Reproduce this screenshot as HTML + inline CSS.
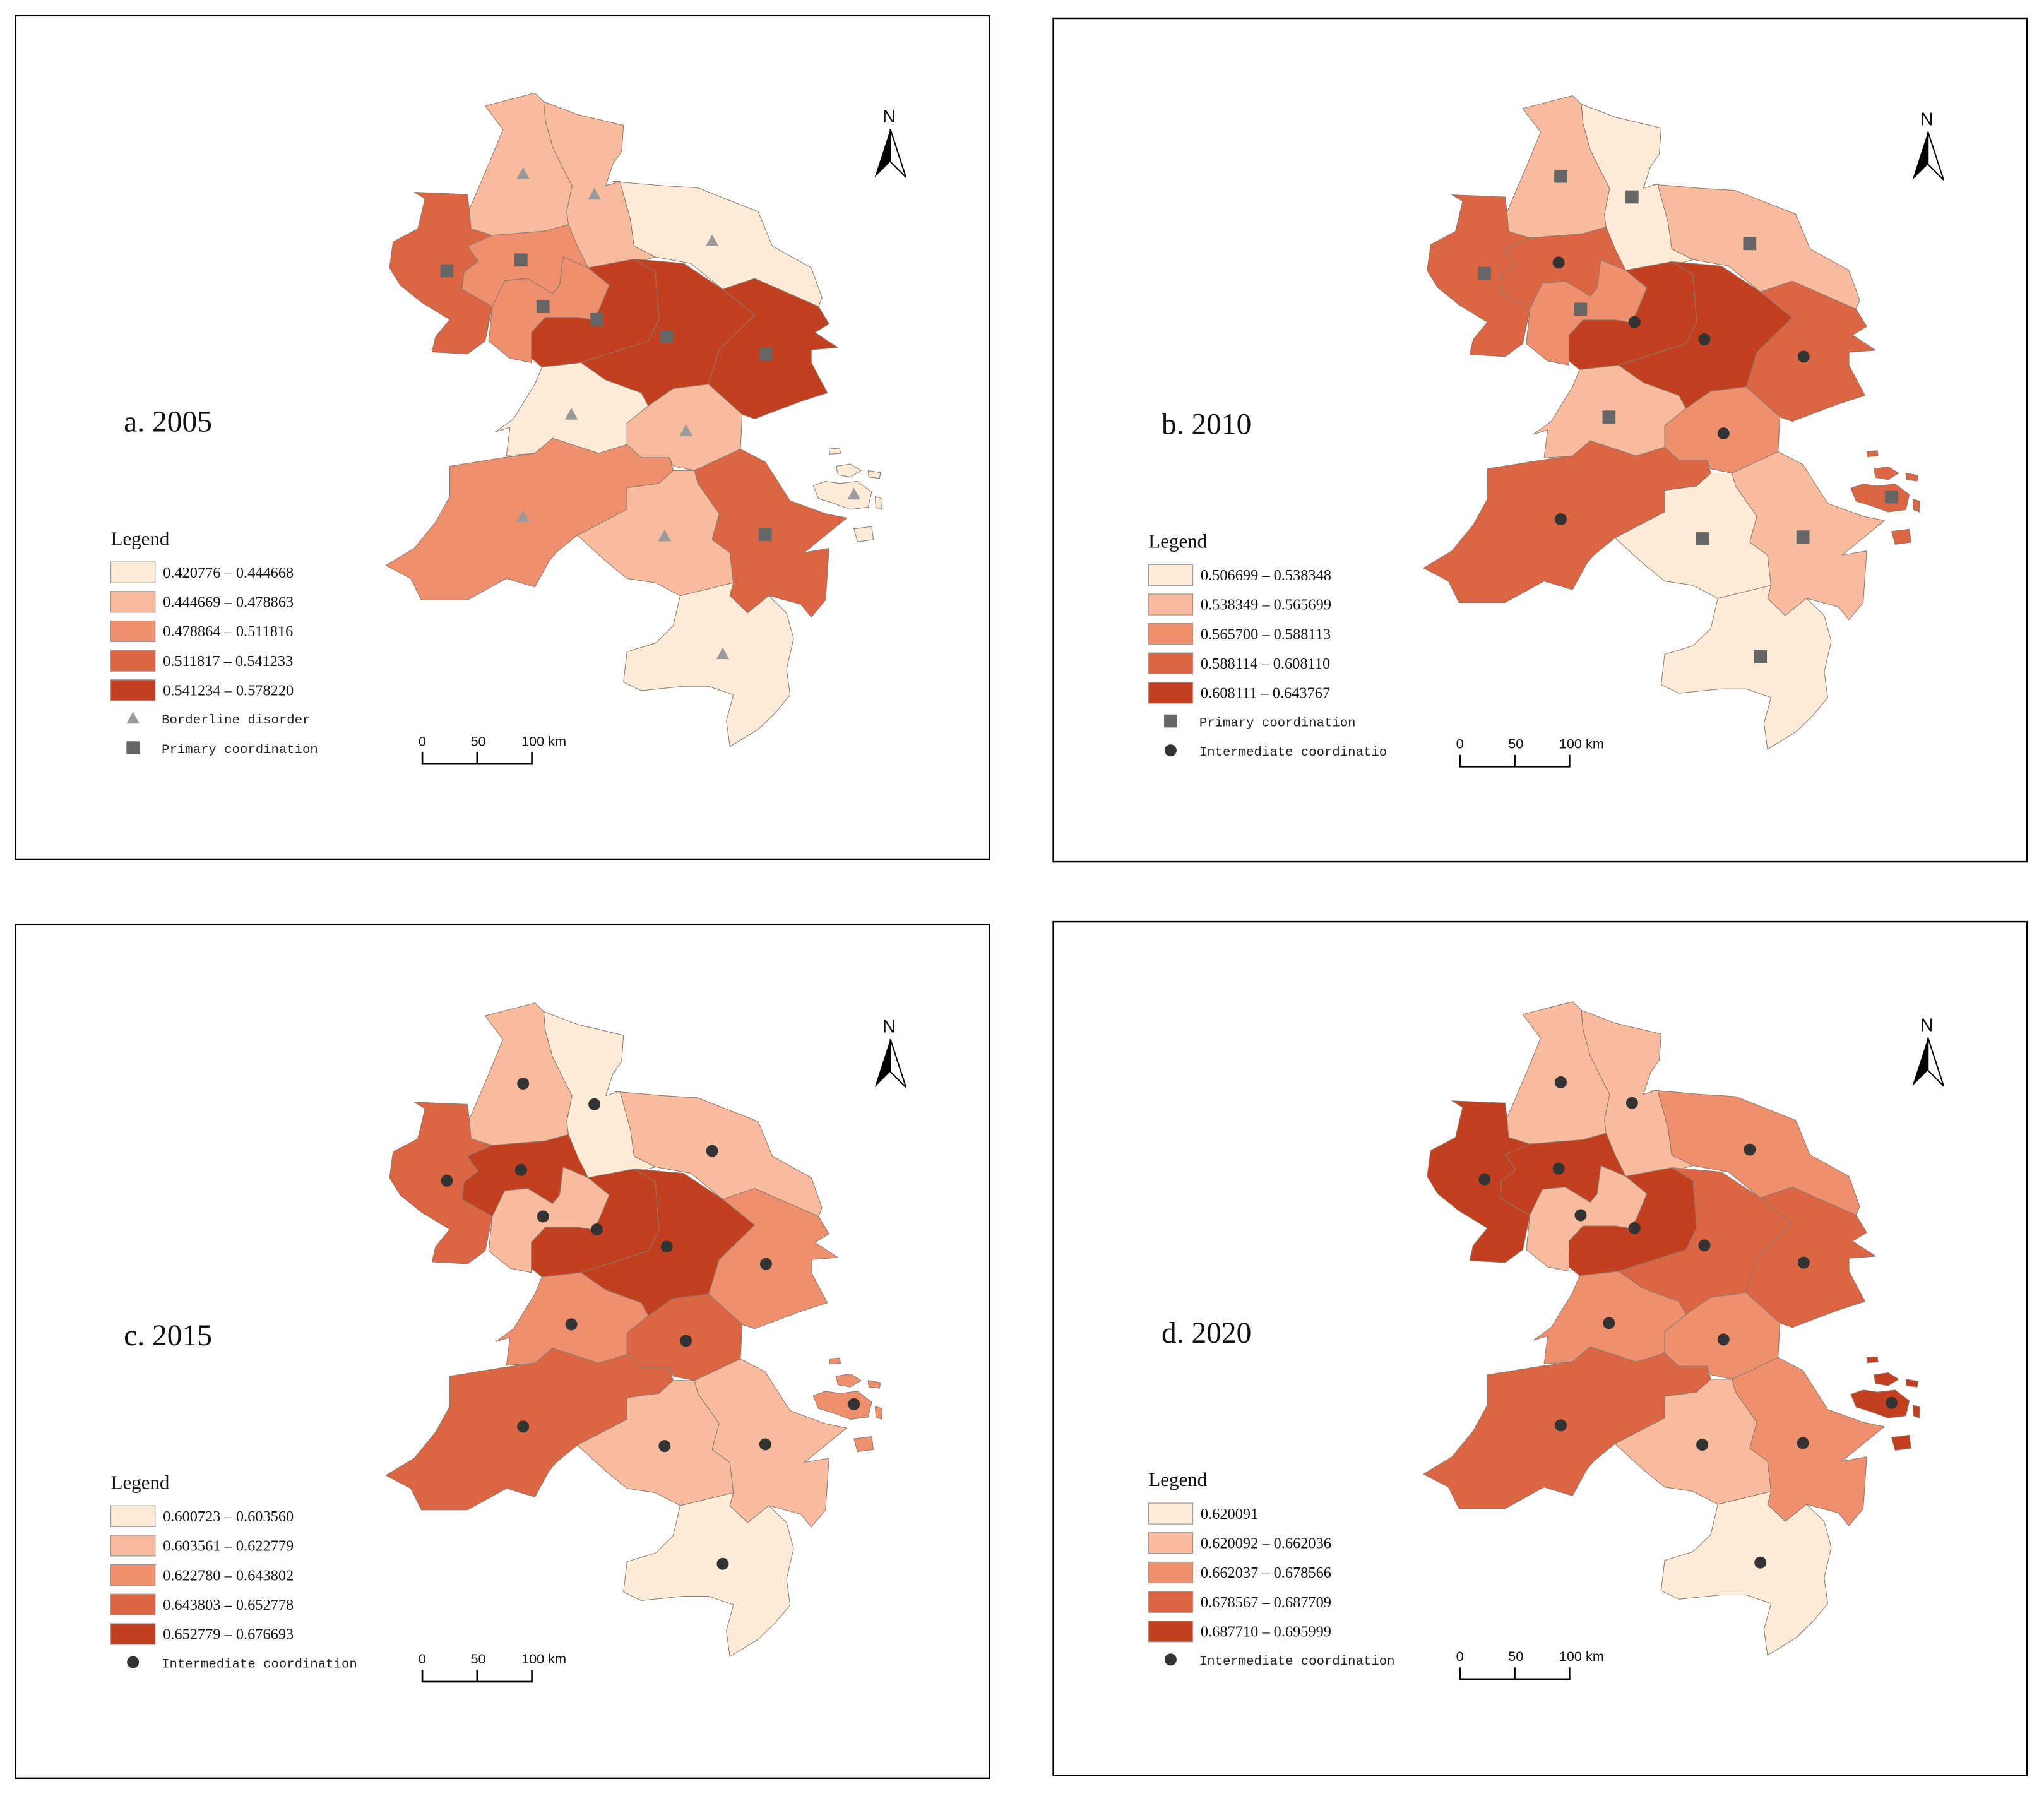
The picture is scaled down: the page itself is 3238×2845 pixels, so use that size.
<!DOCTYPE html>
<html><head><meta charset="utf-8"><style>
html,body{margin:0;padding:0;background:#fff}
svg{display:block}
.lt{font-family:"Liberation Serif",serif;font-size:11.8px;fill:#111}
.mt{font-family:"Liberation Mono",monospace;font-size:10px;fill:#222}
.tt{font-family:"Liberation Serif",serif;font-size:23px;fill:#111}
.lg{font-family:"Liberation Serif",serif;font-size:15px;fill:#111}
.sb{font-family:"Liberation Sans",sans-serif;font-size:10.5px;fill:#111}
</style></head><body>
<svg id="fig" width="3238" height="2845" viewBox="0 0 1568 1377.6" xmlns="http://www.w3.org/2000/svg"></svg>
<script>
const regionNames=["yangzhou","taizhou-js","nantong","nanjing","zhenjiang","changzhou","wuxi","suzhou","shanghai","huzhou","jiaxing","hangzhou","shaoxing","ningbo","zhoushan","taizhou-zj"];
const class2005=[1,1,0,3,2,2,4,4,4,0,1,2,1,3,0,0];
const class2010=[1,0,1,3,3,2,4,4,3,1,2,3,0,1,3,0];
const class2015=[1,0,1,3,4,1,4,4,2,2,3,3,1,1,2,0];
const class2020=[1,1,2,4,4,1,4,3,3,2,2,3,1,2,4,0];
const marker2005=["T","T","T","S","S","S","S","S","S","T","T","T","T","S","T","T"];
const marker2010=["S","S","S","S","C","S","C","C","C","S","C","C","S","S","S","S"];
const marker2015=["C","C","C","C","C","C","C","C","C","C","C","C","C","C","C","C"];
const marker2020=["C","C","C","C","C","C","C","C","C","C","C","C","C","C","C","C"];
const legend2005=["0.420776 – 0.444668","0.444669 – 0.478863","0.478864 – 0.511816","0.511817 – 0.541233","0.541234 – 0.578220"];
const legend2010=["0.506699 – 0.538348","0.538349 – 0.565699","0.565700 – 0.588113","0.588114 – 0.608110","0.608111 – 0.643767"];
const legend2015=["0.600723 – 0.603560","0.603561 – 0.622779","0.622780 – 0.643802","0.643803 – 0.652778","0.652779 – 0.676693"];
const legend2020=["0.620091","0.620092 – 0.662036","0.662037 – 0.678566","0.678567 – 0.687709","0.687710 – 0.695999"];

const COLORS=["#fdebd8","#f8bb9e","#ee8f6d","#dc6543","#c2401f"];
const NS="http://www.w3.org/2000/svg";
const svg=document.getElementById('fig');
function mk(tag,attrs,parent){const e=document.createElementNS(NS,tag);for(const k in attrs)e.setAttribute(k,attrs[k]);(parent||svg).appendChild(e);return e;}
function X(z){return 290.6+0.272*z;}
function Y(z){return 63+0.331*z;}
const shapes=[
[[300,55],[440,25],[465,45],[470,90],[490,150],[520,200],[545,240],[530,300],[535,330],[470,345],[320,355],[260,340],[255,295],[310,190],[350,110]],
[[465,45],[560,75],[690,100],[685,160],[660,190],[640,240],[680,230],[710,320],[720,380],[780,405],[715,420],[590,430],[560,380],[535,330],[530,300],[545,240],[520,200],[490,150],[470,90]],
[[660,230],[800,240],[900,245],[1070,300],[1110,380],[1220,430],[1250,500],[1240,520],[1060,455],[970,480],[880,420],[780,405],[720,380],[710,320],[680,230]],
[[100,255],[250,260],[255,295],[260,340],[320,355],[250,380],[280,415],[240,440],[235,480],[320,520],[300,600],[250,630],[150,625],[160,590],[200,550],[120,510],[60,470],[30,430],[40,370],[110,340],[130,270]],
[[320,355],[470,345],[535,330],[560,380],[590,430],[520,405],[510,470],[490,490],[420,455],[355,460],[320,520],[235,480],[240,440],[280,415],[250,380]],
[[355,460],[420,455],[490,490],[510,470],[520,405],[590,430],[650,470],[620,530],[600,550],[560,545],[470,545],[430,580],[430,650],[370,640],[310,600],[320,520]],
[[590,430],[720,410],[780,440],[790,550],[760,600],[570,650],[460,660],[430,640],[430,580],[470,545],[560,545],[600,550],[620,530],[650,470]],
[[720,410],[860,420],[970,480],[1060,540],[960,620],[930,700],[830,710],[760,750],[740,720],[640,690],[570,650],[760,600],[790,550],[780,440]],
[[970,480],[1060,455],[1240,520],[1270,560],[1230,580],[1295,615],[1220,620],[1220,650],[1265,720],[1190,740],[1060,780],[1025,770],[930,700],[960,620],[1060,540]],
[[460,660],[570,650],[640,690],[740,720],[760,750],[700,790],[700,840],[620,860],[490,825],[440,860],[360,865],[370,800],[330,810],[380,780],[410,740],[440,700]],
[[760,750],[830,710],[930,700],[1025,770],[1020,850],[890,900],[830,890],[820,870],[740,870],[700,840],[700,790]],
[[200,890],[350,870],[440,860],[490,825],[620,860],[700,840],[740,870],[820,870],[830,900],[790,930],[700,940],[700,990],[560,1050],[500,1090],[480,1110],[440,1170],[360,1150],[250,1200],[120,1200],[90,1150],[20,1120],[100,1080],[160,1020],[200,960]],
[[700,940],[790,930],[830,900],[890,900],[900,930],[960,1000],[940,1060],[990,1090],[1000,1160],[850,1190],[780,1160],[700,1150],[640,1110],[560,1050],[700,990]],
[[890,900],[1020,850],[1090,880],[1160,970],[1260,1000],[1320,1010],[1260,1050],[1200,1090],[1270,1080],[1260,1200],[1220,1240],[1190,1210],[1100,1190],[1040,1230],[990,1190],[1000,1160],[990,1090],[940,1060],[960,1000],[900,930]],
[[1225,935],[1260,925],[1300,930],[1350,925],[1390,950],[1380,985],[1330,990],[1280,975],[1240,965]],
[[990,1190],[1040,1230],[1100,1190],[1150,1230],[1170,1290],[1150,1360],[1160,1420],[1120,1460],[1070,1500],[990,1540],[980,1480],[1000,1420],[930,1400],[860,1400],[740,1410],[690,1390],[700,1320],[780,1300],[830,1260],[850,1190],[1000,1160]]
];
const zhoushanExtra=[[[1290,890],[1330,885],[1360,900],[1330,915],[1295,910]],[[1380,900],[1415,905],[1412,918],[1382,915]],[[1340,1035],[1390,1030],[1395,1060],[1350,1065]],[[1270,850],[1300,848],[1302,860],[1272,862]],[[1400,960],[1420,965],[1418,990],[1402,985]]];
const centroids=[[407,212],[608,260],[940,368],[192,437],[401,412],[463,520],[615,550],[812,590],[1092,630],[543,770],[866,808],[407,1007],[806,1052],[1090,1048],[1340,955],[970,1325]];
function pts(p,dx,dy){return p.map(q=>(X(q[0])+dx).toFixed(1)+','+(Y(q[1])+dy).toFixed(1)).join(' ');}

const panels=[
 {key:"a",title:"a. 2005",dx:0,dy:0,frame:[12,12,747,647],cls:class2005,mk:marker2005,legend:legend2005,ly:413,tY:331,sy:586,keys:[["T","Borderline disorder"],["S","Primary coordination"]]},
 {key:"b",title:"b. 2010",dx:796,dy:2,frame:[808,14,747,647],cls:class2010,mk:marker2010,legend:legend2010,ly:415,tY:333,sy:588,keys:[["S","Primary coordination"],["C","Intermediate coordinatio"]]},
 {key:"c",title:"c. 2015",dx:0,dy:698,frame:[12,709,747,655],cls:class2015,mk:marker2015,legend:legend2015,ly:1137,tY:1032,sy:1290,keys:[["C","Intermediate coordination"]]},
 {key:"d",title:"d. 2020",dx:796,dy:697,frame:[808,707,747,655],cls:class2020,mk:marker2020,legend:legend2020,ly:1135,tY:1030,sy:1288,keys:[["C","Intermediate coordination"]]}
];
function drawMarker(t,x,y,g){
 let e;
 if(t==="T"){e=mk('polygon',{points:`${x},${y-5} ${x-5},${y+4} ${x+5},${y+4}`,fill:'#9a9a9a'},g);}
 else if(t==="S"){e=mk('rect',{x:x-5,y:y-5,width:10,height:10,fill:'#666'},g);}
 else {e=mk('circle',{cx:x,cy:y,r:4.6,fill:'#333'},g);}
 return e;
}
panels.forEach(P=>{
 const g=mk('g',{});
 
 
 const fr=mk('rect',{x:P.frame[0],y:P.frame[1],width:P.frame[2],height:P.frame[3],fill:'none',stroke:'#000','stroke-width':1.2},g);
 
 
 shapes.forEach((s,i)=>{
  const p=mk('polygon',{points:pts(s,P.dx,P.dy),fill:COLORS[P.cls[i]],stroke:'#8a7a70','stroke-width':0.5,'stroke-linejoin':'round'},g);
  
  
 });
 zhoushanExtra.forEach(s=>{
  const p=mk('polygon',{points:pts(s,P.dx,P.dy),fill:COLORS[P.cls[14]],stroke:'#8a7a70','stroke-width':0.5},g);
  
  
 });
 centroids.forEach((c,i)=>{
  const m=drawMarker(P.mk[i],X(c[0])+P.dx,Y(c[1])+P.dy,g);
  
  
 });
 const lx=85+P.dx;
 const t=mk('text',{x:95+P.dx,y:P.tY,class:'tt'},g);t.textContent=P.title;
 
 
 const lh=mk('text',{x:lx,y:P.ly+5,class:'lg'},g);lh.textContent="Legend";
 
 
 P.legend.forEach((s,i)=>{
  const yy=P.ly+18+i*22.6;
  const r=mk('rect',{x:lx,y:yy,width:34,height:16,fill:COLORS[i],stroke:'#999','stroke-width':0.6},g);
  
  
  const tx=mk('text',{x:lx+40,y:yy+12,class:'lt'},g);tx.textContent=s;
  
  
 });
 P.keys.forEach((k,i)=>{
  const yy=P.ly+138+i*22.6;
  const m=drawMarker(k[0],lx+17,yy,g);
  
  
  const tx=mk('text',{x:lx+39,y:yy+4,class:'mt'},g);tx.textContent=k[1];
  
  
 });
 const sx=324+P.dx, sy=P.sy;
 const sb=mk('g',{},g);
 
 
 mk('path',{d:`M${sx} ${sy-9}V${sy}H${sx+84}V${sy-9}M${sx+42} ${sy}V${sy-9}`,stroke:'#000','stroke-width':1.3,fill:'none'},sb);
 [["0",sx-3],["50",sx+37],["100 km",sx+76]].forEach(a=>{const e=mk('text',{x:a[1],y:sy-14,class:'sb'},sb);e.textContent=a[0];});
 const nx=683+P.dx, ny=P.dy;
 const na=mk('g',{},g);
 
 
 const nt=mk('text',{x:nx-6,y:94+ny,class:'sb',style:'font-size:14px'},na);nt.textContent="N";
 mk('polygon',{points:`${nx},${99+ny} ${nx-12},${136+ny} ${nx},${124+ny}`,fill:'#000'},na);
 mk('polygon',{points:`${nx},${99+ny} ${nx+12},${136+ny} ${nx},${124+ny}`,fill:'#fff',stroke:'#000','stroke-width':1},na);
});
</script>
</body></html>
